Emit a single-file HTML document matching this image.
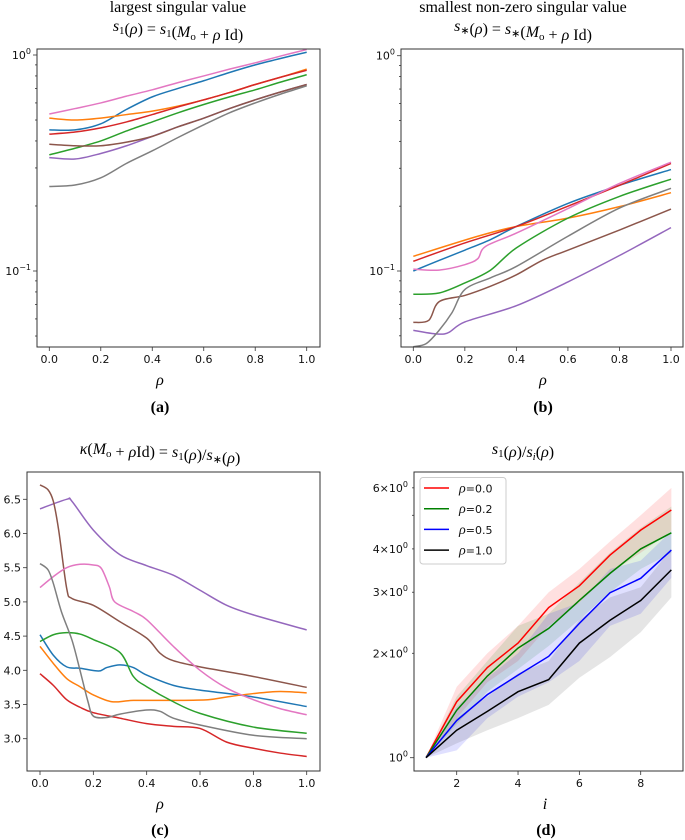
<!DOCTYPE html>
<html><head><meta charset="utf-8"><style>
html,body{margin:0;padding:0;background:#fff;}
svg{display:block;font-family:"DejaVu Sans","Liberation Sans",sans-serif;}
.t{font-family:"Liberation Serif",serif;font-size:16px;fill:#000;}
.tk{font-size:11px;fill:#111;}
</style></head><body>
<svg id="fig" width="685" height="840" viewBox="0 0 685 840" xmlns="http://www.w3.org/2000/svg">
<g id="pa"></g>
<g id="pb"></g>
<g id="pc"></g>
<g id="pd"></g>
</svg>
<script>
// ---------- data ----------
const colors = ['#1f77b4','#ff7f0e','#2ca02c','#d62728','#9467bd','#8c564b','#e377c2','#7f7f7f'];
const seriesNames = ['blue','orange','green','red','purple','brown','pink','gray'];
// Panel a (rho on uniform grid)
const aRho = [0,0.1,0.2,0.3,0.4,0.5,0.6,0.7,0.8,0.9,1.0];
const aBlue   = [0.45,0.45,0.48,0.56,0.64,0.70,0.76,0.83,0.90,0.965,1.03];
const aOrange = [0.51,0.50,0.51,0.53,0.55,0.58,0.62,0.67,0.73,0.79,0.86];
const aGreen  = [0.345,0.37,0.40,0.445,0.49,0.54,0.59,0.64,0.69,0.75,0.81];
const aRed    = [0.43,0.44,0.46,0.49,0.53,0.575,0.62,0.67,0.73,0.79,0.85];
const aPurple = [0.335,0.33,0.35,0.38,0.42,0.465,0.51,0.565,0.62,0.675,0.73];
const aBrown  = [0.386,0.38,0.38,0.395,0.42,0.465,0.51,0.565,0.62,0.675,0.73];
const aPink   = [0.533,0.565,0.60,0.645,0.69,0.745,0.80,0.86,0.92,0.99,1.06];
const aGray   = [0.246,0.25,0.27,0.315,0.36,0.415,0.475,0.54,0.60,0.66,0.72];
// Panel b
const bBlueX=[0,0.1,0.2,0.3,0.4,0.6,0.8,1.0],           bBlue=[0.1,0.112,0.125,0.14,0.161,0.206,0.25,0.296];
const bOrangeX=[0,0.25,0.4,0.6,0.8,1.0],                bOrange=[0.117,0.145,0.161,0.176,0.199,0.231];
const bGreenX=[0,0.1,0.2,0.3,0.4,0.6,0.8,1.0],          bGreen=[0.078,0.079,0.088,0.101,0.128,0.176,0.222,0.267];
const bRedX=[0,0.2,0.4,0.6,0.8,1.0],                    bRed=[0.111,0.135,0.161,0.2,0.25,0.316];
const bPurpleX=[0,0.12,0.2,0.4,0.6,0.8,1.0],            bPurple=[0.053,0.051,0.058,0.069,0.089,0.118,0.159];
const bBrownX=[0,0.06,0.1,0.2,0.3,0.4,0.5,0.6,0.8,1.0], bBrown=[0.0577,0.059,0.072,0.077,0.085,0.096,0.112,0.125,0.155,0.194];
const bPinkX=[0,0.1,0.2,0.25,0.28,0.4,0.6,0.8,1.0],     bPink=[0.102,0.101,0.107,0.114,0.13,0.15,0.195,0.255,0.32];
const bGrayX=[0,0.05,0.1,0.15,0.2,0.3,0.4,0.6,0.8,1.0], bGray=[0.0445,0.046,0.053,0.064,0.082,0.093,0.105,0.145,0.196,0.242];
// Panel c
const cBlueX=[0,0.05,0.1,0.15,0.22,0.25,0.3,0.35,0.4,0.5,0.6,0.8,1.0], cBlue=[4.52,4.22,4.05,4.03,3.99,4.04,4.08,4.04,3.93,3.78,3.71,3.61,3.47];
const cOrangeX=[0,0.05,0.1,0.15,0.2,0.27,0.35,0.5,0.63,0.7,0.8,0.9,1.0], cOrange=[4.35,4.1,3.88,3.76,3.64,3.54,3.56,3.56,3.57,3.61,3.66,3.69,3.67];
const cGreenX=[0,0.05,0.1,0.15,0.2,0.3,0.35,0.4,0.5,0.6,0.8,1.0], cGreen=[4.42,4.52,4.55,4.53,4.45,4.26,3.91,3.76,3.54,3.37,3.17,3.08];
const cRedX=[0,0.05,0.1,0.15,0.2,0.3,0.4,0.5,0.6,0.7,0.8,0.9,1.0], cRed=[3.95,3.78,3.57,3.46,3.38,3.3,3.22,3.18,3.15,2.95,2.86,2.79,2.74];
const cPurpleX=[0,0.1,0.12,0.2,0.3,0.4,0.5,0.6,0.7,0.8,1.0], cPurple=[6.36,6.5,6.47,6.05,5.69,5.53,5.39,5.17,4.95,4.81,4.59];
const cBrownX=[0,0.03,0.05,0.07,0.1,0.12,0.2,0.3,0.4,0.45,0.5,0.6,0.8,1.0], cBrown=[6.71,6.64,6.47,6.05,5.2,5.05,4.95,4.71,4.47,4.25,4.14,4.05,3.91,3.75];
const cPinkX=[0,0.05,0.1,0.15,0.2,0.23,0.26,0.28,0.35,0.4,0.5,0.6,0.7,0.8,0.9,1.0], cPink=[5.21,5.37,5.5,5.55,5.54,5.49,5.22,5.0,4.86,4.74,4.35,4.0,3.74,3.57,3.44,3.35];
const cGrayX=[0,0.03,0.05,0.08,0.12,0.15,0.18,0.2,0.25,0.3,0.4,0.45,0.5,0.6,0.8,1.0], cGray=[5.56,5.47,5.27,4.86,4.44,4.0,3.54,3.33,3.31,3.36,3.42,3.4,3.3,3.2,3.05,3.0];
// Panel d
const dI = [1,2,3,4,5,6,7,8,9];
const dLabels = ['ρ = 0.0','ρ = 0.2','ρ = 0.5','ρ = 1.0'];
const dColors = ['#ff0000','#008000','#0000ff','#000000'];
const dR0 = [1,1.45,1.82,2.14,2.71,3.13,3.84,4.53,5.18];
const dR0hi=[1,1.6,2.0,2.4,3.0,3.5,4.2,5.0,6.0];
const dR0lo=[1,1.3,1.65,1.9,2.4,2.8,3.4,3.9,4.5];
const dR2 = [1,1.37,1.72,2.07,2.36,2.84,3.4,4.0,4.45];
const dR2hi=[1,1.5,1.9,2.4,2.6,3.2,3.9,4.6,5.3];
const dR2lo=[1,1.25,1.55,1.8,2.1,2.5,3.0,3.5,3.9];
const dR5 = [1,1.28,1.52,1.73,1.96,2.44,2.99,3.29,3.97];
const dR5hi=[1,1.4,1.7,2.0,2.6,2.8,3.5,3.7,4.5];
const dR5lo=[1,1.05,1.3,1.5,1.65,1.9,2.4,2.6,3.3];
const dR10 = [1,1.2,1.36,1.55,1.68,2.14,2.49,2.84,3.48];
const dR10hi=[1,1.3,1.5,1.75,1.9,2.5,2.9,3.1,4.0];
const dR10lo=[1,1.1,1.2,1.3,1.42,1.7,1.95,2.3,2.9];

// ---------- helpers ----------
const NS='http://www.w3.org/2000/svg';
function mk(tag,attrs,parent){const e=document.createElementNS(NS,tag);for(const k in attrs)e.setAttribute(k,attrs[k]);parent.appendChild(e);return e;}
function linScale(d0,d1,r0,r1){return v=>r0+(v-d0)/(d1-d0)*(r1-r0);}
function logScale(d0,d1,r0,r1){return v=>r0+(Math.log10(v)-Math.log10(d0))/(Math.log10(d1)-Math.log10(d0))*(r1-r0);}
function smoothPath(pts){
  let d='M'+pts[0][0].toFixed(2)+','+pts[0][1].toFixed(2);
  for(let i=0;i<pts.length-1;i++){
    const p0=pts[Math.max(0,i-1)],p1=pts[i],p2=pts[i+1],p3=pts[Math.min(pts.length-1,i+2)];
    const t=0.16;
    const c1=[p1[0]+(p2[0]-p0[0])*t,p1[1]+(p2[1]-p0[1])*t];
    const c2=[p2[0]-(p3[0]-p1[0])*t,p2[1]-(p3[1]-p1[1])*t];
    d+=' C'+c1[0].toFixed(2)+','+c1[1].toFixed(2)+' '+c2[0].toFixed(2)+','+c2[1].toFixed(2)+' '+p2[0].toFixed(2)+','+p2[1].toFixed(2);
  }
  return d;
}
function frame(g,x0,y0,x1,y1){
  const r=mk('rect',{x:x0,y:y0,width:x1-x0,height:y1-y0,fill:'none',stroke:'#333','stroke-width':1},g);
  
  
}
function xTick(g,x,y,label){
  const l=mk('line',{x1:x,x2:x,y1:y,y2:y+4,stroke:'#333','stroke-width':0.8},g);
  
  
  const t=mk('text',{x:x,y:y+16,'text-anchor':'middle',class:'tk'},g);
  t.textContent=label;
  
  
}
function yTick(g,x,y,len){
  const l=mk('line',{x1:x-len,x2:x,y1:y,y2:y,stroke:'#333','stroke-width':0.8},g);
  
  
}
function yLabel(g,x,y,base,sup){
  const t=mk('text',{x:x,y:y+4,'text-anchor':'end',class:'tk'},g);
  
  
  if(sup===undefined){t.textContent=base;return;}
  const a=mk('tspan',{},t);a.textContent=base;
  const b=mk('tspan',{dy:-5,'font-size':8},t);b.textContent=sup;
}
function titleLine(g,x,y,html){
  const t=mk('text',{x:x,y:y,'text-anchor':'middle',class:'t'},g);
  t.innerHTML=html;
  
  
}
function xlab(g,x,y,txt){
  const t=mk('text',{x:x,y:y,'text-anchor':'middle',class:'t','font-style':'italic','font-size':15},g);
  t.textContent=txt;
  
  
}
function panelLabel(g,x,y,txt){
  const t=mk('text',{x:x,y:y,'text-anchor':'middle',class:'t','font-weight':'bold','font-size':18},g);
  t.textContent=txt;
  
  
}
function drawLine(g,xs,ys,sx,sy,color,name){
  const pts=xs.map((x,i)=>[sx(x),sy(ys[i])]);
  const p=mk('path',{d:smoothPath(pts),fill:'none',stroke:color,'stroke-width':1.5,'stroke-linejoin':'round'},g);
  
  
}
function logAxis(g,xLeft,sy,lo,hi){
  for(let e=-2;e<=0;e++){
    for(let m=1;m<=9;m++){
      const v=m*Math.pow(10,e);
      if(v<lo||v>hi)continue;
      yTick(g,xLeft,sy(v),m===1?4:2);
      if(m===1)yLabel(g,xLeft-6,sy(v),'10',String(e).replace('-','−'));
    }
  }
}
const sub=(s)=>'<tspan font-size="11" dy="3">'+s+'</tspan><tspan dy="-3"></tspan>';

// ---------- Panel A ----------
(function(){
  const g=document.getElementById('pa');
  const X0=37,X1=320,Y0=49,Y1=347;
  const sx=linScale(0,1,49.3,306.7), sy=logScale(0.1,1,271,55);
  titleLine(g,178,12,'largest singular value');
  titleLine(g,178,31,'<tspan font-style="italic">s</tspan>'+sub('1')+'(<tspan font-style="italic">ρ</tspan>) = <tspan font-style="italic">s</tspan>'+sub('1')+'(<tspan font-style="italic">M</tspan>'+sub('o')+' + <tspan font-style="italic">ρ</tspan> Id)');
  const ys=[aBlue,aOrange,aGreen,aRed,aPurple,aBrown,aPink,aGray];
  const cp=mk('clipPath',{id:'ca'},g);mk('rect',{x:X0,y:Y0,width:X1-X0,height:Y1-Y0},cp);
  const cg=mk('g',{'clip-path':'url(#ca)'},g);
  ys.forEach((y,i)=>drawLine(cg,aRho,y,sx,sy,colors[i],'line-'+seriesNames[i]));
  frame(g,X0,Y0,X1,Y1);
  [0,0.2,0.4,0.6,0.8,1.0].forEach(v=>xTick(g,sx(v),Y1,v.toFixed(1)));
  logAxis(g,X0,sy,0.0445,1.066);
  xlab(g,160,385,'ρ');
  panelLabel(g,160,412,'(a)');
})();

// ---------- Panel B ----------
(function(){
  const g=document.getElementById('pb');
  const X0=401,X1=683,Y0=49,Y1=347;
  const sx=linScale(0,1,413.3,671), sy=logScale(0.1,1,271,55.7);
  titleLine(g,523,12,'smallest non-zero singular value');
  titleLine(g,523,31,'<tspan font-style="italic">s</tspan>'+sub('∗')+'(<tspan font-style="italic">ρ</tspan>) = <tspan font-style="italic">s</tspan>'+sub('∗')+'(<tspan font-style="italic">M</tspan>'+sub('o')+' + <tspan font-style="italic">ρ</tspan> Id)');
  const xs=[bBlueX,bOrangeX,bGreenX,bRedX,bPurpleX,bBrownX,bPinkX,bGrayX];
  const ys=[bBlue,bOrange,bGreen,bRed,bPurple,bBrown,bPink,bGray];
  const cp=mk('clipPath',{id:'cb'},g);mk('rect',{x:X0,y:Y0,width:X1-X0,height:Y1-Y0},cp);
  const cg=mk('g',{'clip-path':'url(#cb)'},g);
  ys.forEach((y,i)=>drawLine(cg,xs[i],y,sx,sy,colors[i],'line-'+seriesNames[i]));
  frame(g,X0,Y0,X1,Y1);
  [0,0.2,0.4,0.6,0.8,1.0].forEach(v=>xTick(g,sx(v),Y1,v.toFixed(1)));
  logAxis(g,X0,sy,0.0445,1.066);
  xlab(g,543,385,'ρ');
  panelLabel(g,543,412,'(b)');
})();

// ---------- Panel C ----------
(function(){
  const g=document.getElementById('pc');
  const X0=27,X1=320,Y0=472,Y1=771;
  const sx=linScale(0,1,40,306.7), sy=linScale(3.0,6.5,738.7,499.3);
  titleLine(g,160,454,'<tspan font-style="italic">κ</tspan>(<tspan font-style="italic">M</tspan>'+sub('o')+' + <tspan font-style="italic">ρ</tspan>Id) = <tspan font-style="italic">s</tspan>'+sub('1')+'(<tspan font-style="italic">ρ</tspan>)/<tspan font-style="italic">s</tspan>'+sub('∗')+'(<tspan font-style="italic">ρ</tspan>)');
  const xs=[cBlueX,cOrangeX,cGreenX,cRedX,cPurpleX,cBrownX,cPinkX,cGrayX];
  const ys=[cBlue,cOrange,cGreen,cRed,cPurple,cBrown,cPink,cGray];
  ys.forEach((y,i)=>drawLine(g,xs[i],y,sx,sy,colors[i],'line-'+seriesNames[i]));
  frame(g,X0,Y0,X1,Y1);
  [0,0.2,0.4,0.6,0.8,1.0].forEach(v=>xTick(g,sx(v),Y1,v.toFixed(1)));
  [3.0,3.5,4.0,4.5,5.0,5.5,6.0,6.5].forEach(v=>{yTick(g,X0,sy(v),4);yLabel(g,X0-6,sy(v),v.toFixed(1));});
  xlab(g,160,809,'ρ');
  panelLabel(g,160,835,'(c)');
})();

// ---------- Panel D ----------
(function(){
  const g=document.getElementById('pd');
  const X0=414,X1=683,Y0=472,Y1=771;
  const sx=linScale(2,8,456.7,640.7), sy=logScale(1,2,757.7,653.3);
  titleLine(g,523,454,'<tspan font-style="italic">s</tspan>'+sub('1')+'(<tspan font-style="italic">ρ</tspan>)/<tspan font-style="italic">s<tspan font-size="11" dy="3">i</tspan></tspan><tspan dy="-3">(</tspan><tspan font-style="italic">ρ</tspan>)');
  const mids=[dR0,dR2,dR5,dR10], his=[dR0hi,dR2hi,dR5hi,dR10hi], los=[dR0lo,dR2lo,dR5lo,dR10lo];
  const bandCol=['#ff0000','#008000','#0000ff','#000000'];
  const bandOp=[0.12,0.12,0.12,0.1];
  const names=['rho-0-0','rho-0-2','rho-0-5','rho-1-0'];
  mids.forEach((m,k)=>{
    let d='M';
    dI.forEach((x,i)=>{d+=(i?' L':'')+sx(x).toFixed(2)+','+sy(his[k][i]).toFixed(2);});
    for(let i=dI.length-1;i>=0;i--)d+=' L'+sx(dI[i]).toFixed(2)+','+sy(los[k][i]).toFixed(2);
    const p=mk('path',{d:d+'Z',fill:bandCol[k],'fill-opacity':bandOp[k],stroke:'none'},g);
    
    
  });
  mids.forEach((m,k)=>{
    const pts=dI.map((x,i)=>sx(x).toFixed(2)+','+sy(m[i]).toFixed(2)).join(' ');
    const p=mk('polyline',{points:pts,fill:'none',stroke:dColors[k],'stroke-width':1.5},g);
    
    
  });
  frame(g,X0,Y0,X1,Y1);
  [2,4,6,8].forEach(v=>xTick(g,sx(v),Y1,String(v)));
  yTick(g,X0,sy(1),4);yLabel(g,X0-6,sy(1),'10','0');
  [2,3,4,5,6].forEach(v=>{yTick(g,X0,sy(v),2);if(v!==5)yLabel(g,X0-6,sy(v),v+'×10','0');});
  // legend
  const lg=mk('g',{},g);
  
  
  mk('rect',{x:420,y:477.5,width:86,height:86.5,rx:3,fill:'#fff','fill-opacity':0.8,stroke:'#ccc'},lg);
  dLabels.forEach((lab,k)=>{
    const y=488+k*20.7;
    const l=mk('line',{x1:424,x2:449,y1:y,y2:y,stroke:dColors[k],'stroke-width':1.5},lg);
    
    
    const t=mk('text',{x:459,y:y+4.5,class:'tk','font-size':12.5},lg);
    t.innerHTML='<tspan font-family="Liberation Serif" font-style="italic" font-size="14">ρ</tspan>=' + lab.split('= ')[1];
    
    
  });
  const xt=mk('text',{x:545,y:809,'text-anchor':'middle',class:'t','font-style':'italic'},g);
  xt.textContent='i';
  
  
  panelLabel(g,546,835,'(d)');
})();
</script>
</body></html>
